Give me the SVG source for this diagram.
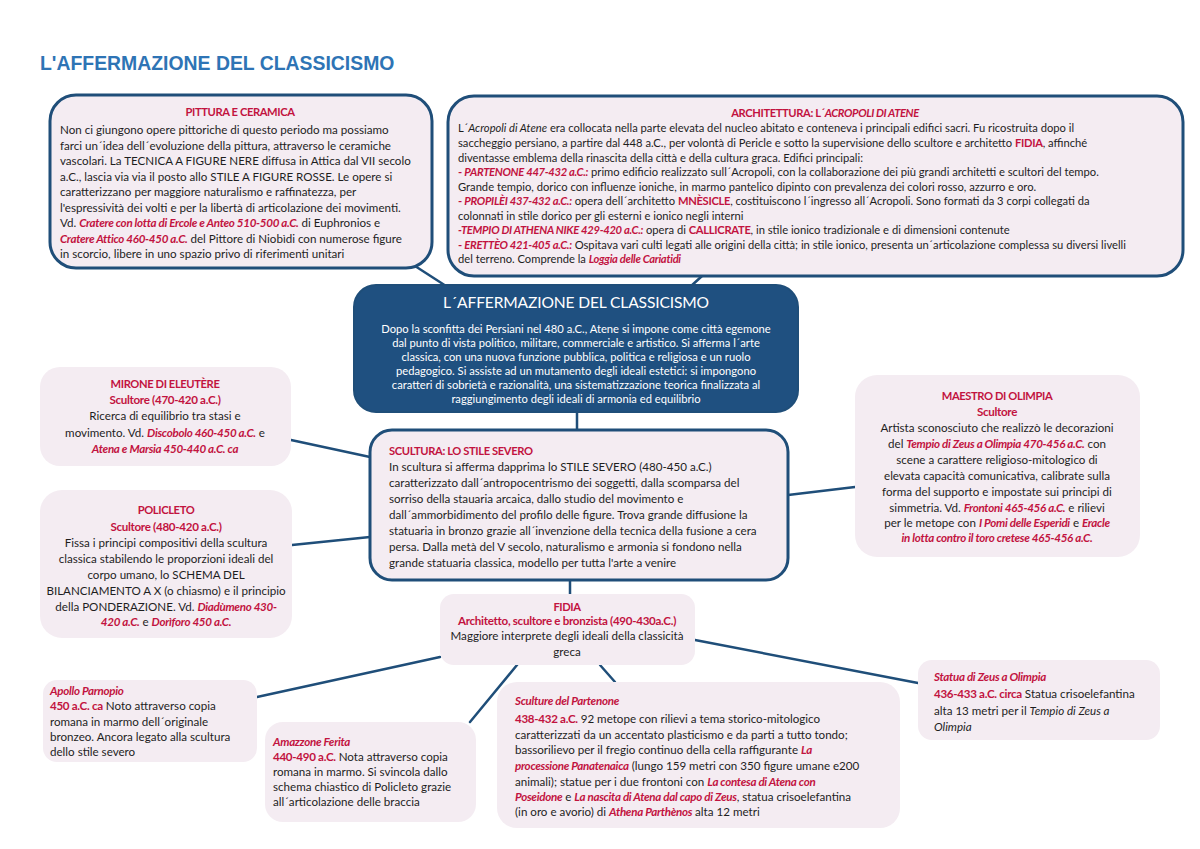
<svg xmlns="http://www.w3.org/2000/svg" width="1200" height="849" viewBox="0 0 1200 849">
<style>
.bg{fill:#ffffff}
.box{fill:#F4ECF2;stroke:#1F4E79;stroke-width:3}
.soft{fill:#F4ECF2}
.dark{fill:#1F5080;stroke:#1F4E79;stroke-width:2}
.t{font-family:Lato,"Liberation Sans",sans-serif;font-size:11.6px;fill:#1e1e1e}
.s{font-size:11.2px}
.w{fill:#ffffff}
.c{text-anchor:middle}
.r{fill:#C2133F;font-weight:bold;font-style:italic;letter-spacing:-0.3px}
.rb{fill:#C2133F;font-weight:bold;letter-spacing:-0.3px}
.h{fill:#C2133F;font-weight:bold;letter-spacing:-0.4px;font-size:11.2px}
.big{font-size:15.6px;letter-spacing:-0.15px}
.i{font-style:italic}
.ttl{font-family:"Liberation Sans",Arial,sans-serif;font-weight:bold;font-size:19.4px;fill:#2E74B5}
.con{stroke:#1F4E79;stroke-width:2.5;fill:none;stroke-linecap:round}
</style>
<rect class="bg" x="0" y="0" width="1200" height="849"/>
<text class="ttl" x="40" y="70">L'AFFERMAZIONE DEL CLASSICISMO</text>

<g id="connectors">
<line class="con" x1="415" y1="266" x2="446" y2="286"/>
<line class="con" x1="702" y1="276" x2="690" y2="287"/>
<line class="con" x1="577" y1="412" x2="577" y2="430"/>
<line class="con" x1="291" y1="440" x2="370" y2="457"/>
<line class="con" x1="292" y1="545" x2="370" y2="537"/>
<line class="con" x1="788" y1="495" x2="855" y2="487"/>
<line class="con" x1="570" y1="580" x2="570" y2="594"/>
<line class="con" x1="257" y1="697" x2="440" y2="657"/>
<line class="con" x1="517" y1="665" x2="470" y2="722"/>
<line class="con" x1="600" y1="665" x2="615" y2="682"/>
<line class="con" x1="695" y1="640" x2="918" y2="683"/>
</g>

<g id="pittura">
<rect class="box" x="50" y="95" width="382" height="173" rx="26"/>
<text class="t h c" x="240" y="116">PITTURA E CERAMICA</text>
<text class="t" x="60" y="134">Non ci giungono opere pittoriche di questo periodo ma possiamo</text>
<text class="t" x="60" y="149.5">farci un´idea dell´evoluzione della pittura, attraverso le ceramiche</text>
<text class="t" x="60" y="165">vascolari. La TECNICA A FIGURE NERE diffusa in Attica dal VII secolo</text>
<text class="t" x="60" y="180.5">a.C., lascia via via il posto allo STILE A FIGURE ROSSE. Le opere si</text>
<text class="t" x="60" y="196">caratterizzano per maggiore naturalismo e raffinatezza, per</text>
<text class="t" x="60" y="211.5">l'espressività dei volti e per la libertà di articolazione dei movimenti.</text>
<text class="t" x="60" y="227">Vd. <tspan class="r">Cratere con lotta di Ercole e Anteo 510-500 a.C.</tspan> di Euphronios e</text>
<text class="t" x="60" y="242.5"><tspan class="r">Cratere Attico 460-450 a.C.</tspan> del Pittore di Niobìdi con numerose figure</text>
<text class="t" x="60" y="258">in scorcio, libere in uno spazio privo di riferimenti unitari</text>
</g>

<g id="architettura">
<rect class="box" x="448" y="96" width="735" height="180" rx="26"/>
<text class="t h c" x="825" y="117">ARCHITETTURA: L´<tspan class="i">ACROPOLI DI ATENE</tspan></text>
<text class="t s" x="458" y="132">L´<tspan class="i">Acropoli di Atene</tspan> era collocata nella parte elevata del nucleo abitato e conteneva i principali edifici sacri. Fu ricostruita dopo il</text>
<text class="t s" x="458" y="147">saccheggio persiano, a partire dal 448 a.C., per volontà di Pericle e sotto la supervisione dello scultore e architetto <tspan class="rb">FIDIA</tspan>, affinché</text>
<text class="t s" x="458" y="161.5">diventasse emblema della rinascita della città e della cultura graca. Edifici principali:</text>
<text class="t s" x="458" y="176"><tspan class="rb">- </tspan><tspan class="r">PARTENONE 447-432 a.C.:</tspan> primo edificio realizzato sull´Acropoli, con la collaborazione dei più grandi architetti e scultori del tempo.</text>
<text class="t s" x="458" y="190.5">Grande tempio, dorico con influenze ioniche, in marmo pantelico dipinto con prevalenza dei colori rosso, azzurro e oro.</text>
<text class="t s" x="458" y="205"><tspan class="rb">- </tspan><tspan class="r">PROPILÈI 437-432 a.C.:</tspan> opera dell´architetto <tspan class="rb">MNÈSICLE</tspan>, costituiscono l´ingresso all´Acropoli. Sono formati da 3 corpi collegati da</text>
<text class="t s" x="458" y="219.5">colonnati in stile dorico per gli esterni e ionico negli interni</text>
<text class="t s" x="458" y="234"><tspan class="r">-TEMPIO DI ATHENA NIKE 429-420 a.C.:</tspan> opera di <tspan class="rb">CALLICRATE</tspan>, in stile ionico tradizionale e di dimensioni contenute</text>
<text class="t s" x="458" y="248.5"><tspan class="rb">- </tspan><tspan class="r">ERETTÈO 421-405 a.C.:</tspan> Ospitava vari culti legati alle origini della città; in stile ionico, presenta un´articolazione complessa su diversi livelli</text>
<text class="t s" x="458" y="263">del terreno. Comprende la <tspan class="r">Loggia delle Cariatidi</tspan></text>
</g>

<g id="centrale">
<rect class="dark" x="354" y="285" width="444" height="127" rx="22"/>
<text class="t w c big" x="576" y="308">L´AFFERMAZIONE DEL CLASSICISMO</text>
<text class="t w c s" x="576" y="333">Dopo la sconfitta dei Persiani nel 480 a.C., Atene si impone come città egemone</text>
<text class="t w c s" x="576" y="347">dal punto di vista politico, militare, commerciale e artistico. Si afferma l´arte</text>
<text class="t w c s" x="576" y="361">classica, con una nuova funzione pubblica, politica e religiosa e un ruolo</text>
<text class="t w c s" x="576" y="375">pedagogico. Si assiste ad un mutamento degli ideali estetici: si impongono</text>
<text class="t w c s" x="576" y="389">caratteri di sobrietà e razionalità, una sistematizzazione teorica finalizzata al</text>
<text class="t w c s" x="576" y="403">raggiungimento degli ideali di armonia ed equilibrio</text>
</g>

<g id="mirone">
<rect class="soft" x="40" y="367" width="251" height="99" rx="20"/>
<text class="t h c" x="165" y="388">MIRONE DI ELEUTÈRE</text>
<text class="t rb c" x="165" y="404">Scultore (470-420 a.C.)</text>
<text class="t c" x="165" y="420">Ricerca di equilibrio tra stasi e</text>
<text class="t c" x="165" y="437">movimento. Vd. <tspan class="r">Discobolo 460-450 a.C.</tspan> e</text>
<text class="t r c" x="165" y="453">Atena e Marsia 450-440 a.C. ca</text>
</g>

<g id="scultura">
<rect class="box" x="370" y="430" width="418" height="150" rx="22"/>
<text class="t h" x="389" y="455">SCULTURA: LO STILE SEVERO</text>
<text class="t" x="389" y="471">In scultura si afferma dapprima lo STILE SEVERO (480-450 a.C.)</text>
<text class="t" x="389" y="487">caratterizzato dall´antropocentrismo dei soggetti, dalla scomparsa del</text>
<text class="t" x="389" y="503">sorriso della stauaria arcaica, dallo studio del movimento e</text>
<text class="t" x="389" y="519">dall´ammorbidimento del profilo delle figure. Trova grande diffusione la</text>
<text class="t" x="389" y="535">statuaria in bronzo grazie all´invenzione della tecnica della fusione a cera</text>
<text class="t" x="389" y="551">persa. Dalla metà del V secolo, naturalismo e armonia si fondono nella</text>
<text class="t" x="389" y="567">grande statuaria classica, modello per tutta l'arte a venire</text>
</g>

<g id="policleto">
<rect class="soft" x="40" y="490" width="252" height="148" rx="22"/>
<text class="t h c" x="166" y="514">POLICLETO</text>
<text class="t rb c" x="166" y="531">Scultore (480-420 a.C.)</text>
<text class="t c" x="166" y="547">Fissa i principi compositivi della scultura</text>
<text class="t c" x="166" y="563">classica stabilendo le proporzioni ideali del</text>
<text class="t c" x="166" y="579">corpo umano, lo SCHEMA DEL</text>
<text class="t c" x="166" y="595">BILANCIAMENTO A X (o chiasmo) e il principio</text>
<text class="t c" x="166" y="611">della PONDERAZIONE. Vd. <tspan class="r">Diadùmeno 430-</tspan></text>
<text class="t c" x="166" y="626"><tspan class="r">420 a.C.</tspan> e <tspan class="r">Dorìforo 450 a.C.</tspan></text>
</g>

<g id="maestro">
<rect class="soft" x="855" y="375" width="285" height="182" rx="22"/>
<text class="t h c" x="997" y="400">MAESTRO DI OLIMPIA</text>
<text class="t rb c" x="997" y="416">Scultore</text>
<text class="t c" x="997" y="432">Artista sconosciuto che realizzò le decorazioni</text>
<text class="t c" x="997" y="448">del <tspan class="r">Tempio di Zeus a Olimpia 470-456 a.C.</tspan> con</text>
<text class="t c" x="997" y="464">scene a carattere religioso-mitologico di</text>
<text class="t c" x="997" y="480">elevata capacità comunicativa, calibrate sulla</text>
<text class="t c" x="997" y="496">forma del supporto e impostate sui principi di</text>
<text class="t c" x="997" y="512">simmetria. Vd. <tspan class="r">Frontoni 465-456 a.C.</tspan> e rilievi</text>
<text class="t c" x="997" y="527">per le metope con <tspan class="r">I Pomi delle Esperidi</tspan> e <tspan class="r">Eracle</tspan></text>
<text class="t r c" x="997" y="542">in lotta contro il toro cretese 465-456 a.C.</text>
</g>

<g id="fidia">
<rect class="soft" x="440" y="594" width="255" height="71" rx="14"/>
<text class="t h c" x="567" y="611">FIDIA</text>
<text class="t rb c" x="567" y="625">Architetto, scultore e bronzista (490-430a.C.)</text>
<text class="t c" x="567" y="640">Maggiore interprete degli ideali della classicità</text>
<text class="t c" x="567" y="656">greca</text>
</g>

<g id="apollo">
<rect class="soft" x="43" y="680" width="214" height="82" rx="14"/>
<text class="t r" x="50" y="695">Apollo Parnopio</text>
<text class="t" x="50" y="710"><tspan class="rb">450 a.C. ca</tspan> Noto attraverso copia</text>
<text class="t" x="50" y="726">romana in marmo dell´originale</text>
<text class="t" x="50" y="741">bronzeo. Ancora legato alla scultura</text>
<text class="t" x="50" y="756">dello stile severo</text>
</g>

<g id="amazzone">
<rect class="soft" x="265" y="722" width="211" height="100" rx="18"/>
<text class="t r" x="273" y="746">Amazzone Ferita</text>
<text class="t" x="273" y="761"><tspan class="rb">440-490 a.C.</tspan> Nota attraverso copia</text>
<text class="t" x="273" y="776">romana in marmo. Si svincola dallo</text>
<text class="t" x="273" y="791">schema chiastico di Policleto grazie</text>
<text class="t" x="273" y="806">all´articolazione delle braccia</text>
</g>

<g id="partenone">
<rect class="soft" x="497" y="682" width="403" height="146" rx="20"/>
<text class="t r" x="515" y="705">Sculture del Partenone</text>
<text class="t" x="515" y="723"><tspan class="rb">438-432 a.C.</tspan> 92 metope con rilievi a tema storico-mitologico</text>
<text class="t" x="515" y="739">caratterizzati da un accentato plasticismo e da parti a tutto tondo;</text>
<text class="t" x="515" y="754">bassorilievo per il fregio continuo della cella raffigurante <tspan class="r">La</tspan></text>
<text class="t" x="515" y="770"><tspan class="r">processione Panatenaica</tspan> (lungo 159 metri con 350 figure umane e200</text>
<text class="t" x="515" y="786">animali); statue per i due frontoni con <tspan class="r">La contesa di Atena con</tspan></text>
<text class="t" x="515" y="801"><tspan class="r">Poseidone</tspan> e <tspan class="r">La nascita di Atena dal capo di Zeus</tspan>, statua crisoelefantina</text>
<text class="t" x="515" y="816">(in oro e avorio) di <tspan class="r">Athena Parthènos</tspan> alta 12 metri</text>
</g>

<g id="statua">
<rect class="soft" x="918" y="660" width="242" height="80" rx="14"/>
<text class="t r" x="934" y="681">Statua di Zeus a Olimpia</text>
<text class="t" x="934" y="698"><tspan class="rb">436-433 a.C. circa</tspan> Statua crisoelefantina</text>
<text class="t" x="934" y="715">alta 13 metri per il <tspan class="i">Tempio di Zeus a</tspan></text>
<text class="t i" x="934" y="731">Olimpia</text>
</g>
</svg>
